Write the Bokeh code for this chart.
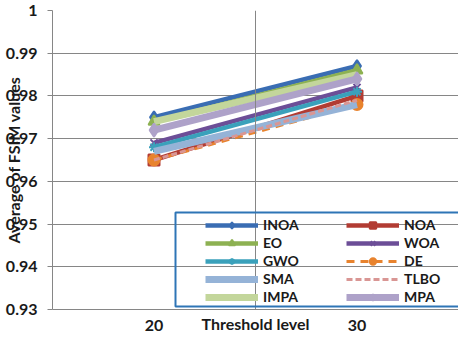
from bokeh.plotting import figure
from bokeh.models import (FactorRange, Range1d, FixedTicker, Span, Legend, LegendItem,
                          BoxAnnotation)
from bokeh.embed import file_html
from bokeh.resources import INLINE

categories = ["20", "30"]

INOA = [0.975, 0.987]
NOA = [0.965, 0.980]
EO = [0.974, 0.986]
WOA = [0.969, 0.982]
GWO = [0.968, 0.981]
DE = [0.965, 0.978]
SMA = [0.967, 0.978]
TLBO = [0.965, 0.979]
IMPA = [0.974, 0.985]
MPA = [0.972, 0.984]

y_ticks = [0.93, 0.94, 0.95, 0.96, 0.97, 0.98, 0.99, 1.0]
y_tick_labels = ["0.93", "0.94", "0.95", "0.96", "0.97", "0.98", "0.99", "1"]
x_title = "Threshold level"
y_title = "Average of FSIM values"

FONT = "Lato"
GRID = "#868686"
TXT = "#1a1a1a"

p = figure(width=458, height=339, output_backend="svg", toolbar_location=None,
           x_range=FactorRange(factors=categories, range_padding=0),
           y_range=Range1d(0.93, 1.0),
           min_border_left=49, min_border_right=0, min_border_top=10, min_border_bottom=30)
p.outline_line_color = None
p.background_fill_color = "white"

# axes
p.yaxis.ticker = FixedTicker(ticks=y_ticks)
p.yaxis.major_label_overrides = dict(zip(y_ticks, y_tick_labels))
p.yaxis.axis_line_color = GRID
p.yaxis.major_tick_line_color = GRID
p.yaxis.major_tick_out = 5
p.yaxis.major_tick_in = 0
p.yaxis.minor_tick_line_color = None
p.yaxis.minor_tick_out = 0
p.yaxis.major_label_standoff = 10
p.yaxis.major_label_text_font = FONT
p.yaxis.major_label_text_font_style = "bold"
p.yaxis.major_label_text_font_size = "16px"
p.yaxis.major_label_text_color = TXT
p.yaxis.axis_label = y_title
p.yaxis.axis_label_text_font = FONT
p.yaxis.axis_label_text_font_style = "bold"
p.yaxis.axis_label_text_font_size = "16px"
p.yaxis.axis_label_text_color = TXT
p.yaxis.axis_label_standoff = -20

p.xaxis.axis_line_color = GRID
p.xaxis.major_tick_line_color = None
p.xaxis.minor_tick_line_color = None
p.xaxis.major_tick_out = 0
p.xaxis.major_tick_in = 0
p.xaxis.minor_tick_out = 0
p.xaxis.major_label_standoff = 10
p.xaxis.major_label_text_font = FONT
p.xaxis.major_label_text_font_style = "bold"
p.xaxis.major_label_text_font_size = "16px"
p.xaxis.major_label_text_color = TXT
p.xaxis.axis_label = x_title
p.xaxis.axis_label_text_font = FONT
p.xaxis.axis_label_text_font_style = "bold"
p.xaxis.axis_label_text_font_size = "16px"
p.xaxis.axis_label_text_color = TXT
p.xaxis.axis_label_standoff = -20

p.ygrid.grid_line_color = GRID
p.ygrid.grid_line_width = 1
p.xgrid.visible = False
p.add_layout(Span(location=1, dimension="height", line_color=GRID, line_width=1))

series = [
    ("INOA", INOA, "#3A6DB3", 4.5, "solid", "diamond", 12),
    ("NOA", NOA, "#B23C33", 4.5, "solid", "square", 11),
    ("EO", EO, "#8DB152", 4.5, "solid", "triangle", 11),
    ("WOA", WOA, "#6C4E97", 4.5, "solid", "x", 10),
    ("GWO", GWO, "#3AA1BB", 4.5, "solid", "asterisk", 10),
    ("DE", DE, "#E8832E", 3, "8 6", "circle", 11),
    ("SMA", SMA, "#95B3D7", 7, "solid", None, 0),
    ("TLBO", TLBO, "#D99694", 3, "6 3", None, 0),
    ("IMPA", IMPA, "#C3D69B", 7, "solid", None, 0),
    ("MPA", MPA, "#AEA2C9", 7, "solid", "diamond", 13),
]

items = {}
for name, vals, color, lw, dash, marker, size in series:
    rs = [p.line(x=categories, y=vals, line_color=color, line_width=lw, line_dash=dash)]
    if marker:
        rs.append(p.scatter(x=categories, y=vals, marker=marker, size=size,
                            fill_color=color, line_color=color, line_width=2))
    items[name] = LegendItem(label=name, renderers=rs)

order = ["INOA", "EO", "GWO", "SMA", "IMPA", "NOA", "WOA", "DE", "TLBO", "MPA"]
legend = Legend(items=[items[n] for n in order], location=(153, 4), ncols=2,
                orientation="vertical",
                glyph_width=53, glyph_height=16, label_height=16, label_width=82,
                label_standoff=5, spacing=1, padding=0, margin=0,
                label_text_font=FONT, label_text_font_style="bold",
                label_text_font_size="14px", label_text_color=TXT,
                border_line_alpha=0, background_fill_alpha=0)
p.add_layout(legend, "center")

p.add_layout(BoxAnnotation(left=123, right=408, bottom=3, top=97,
                           left_units="screen", right_units="screen",
                           bottom_units="screen", top_units="screen",
                           fill_alpha=0, line_alpha=1,
                           line_color="#2E75B6", line_width=2))

open("out.html", "w").write(file_html(p, INLINE))
